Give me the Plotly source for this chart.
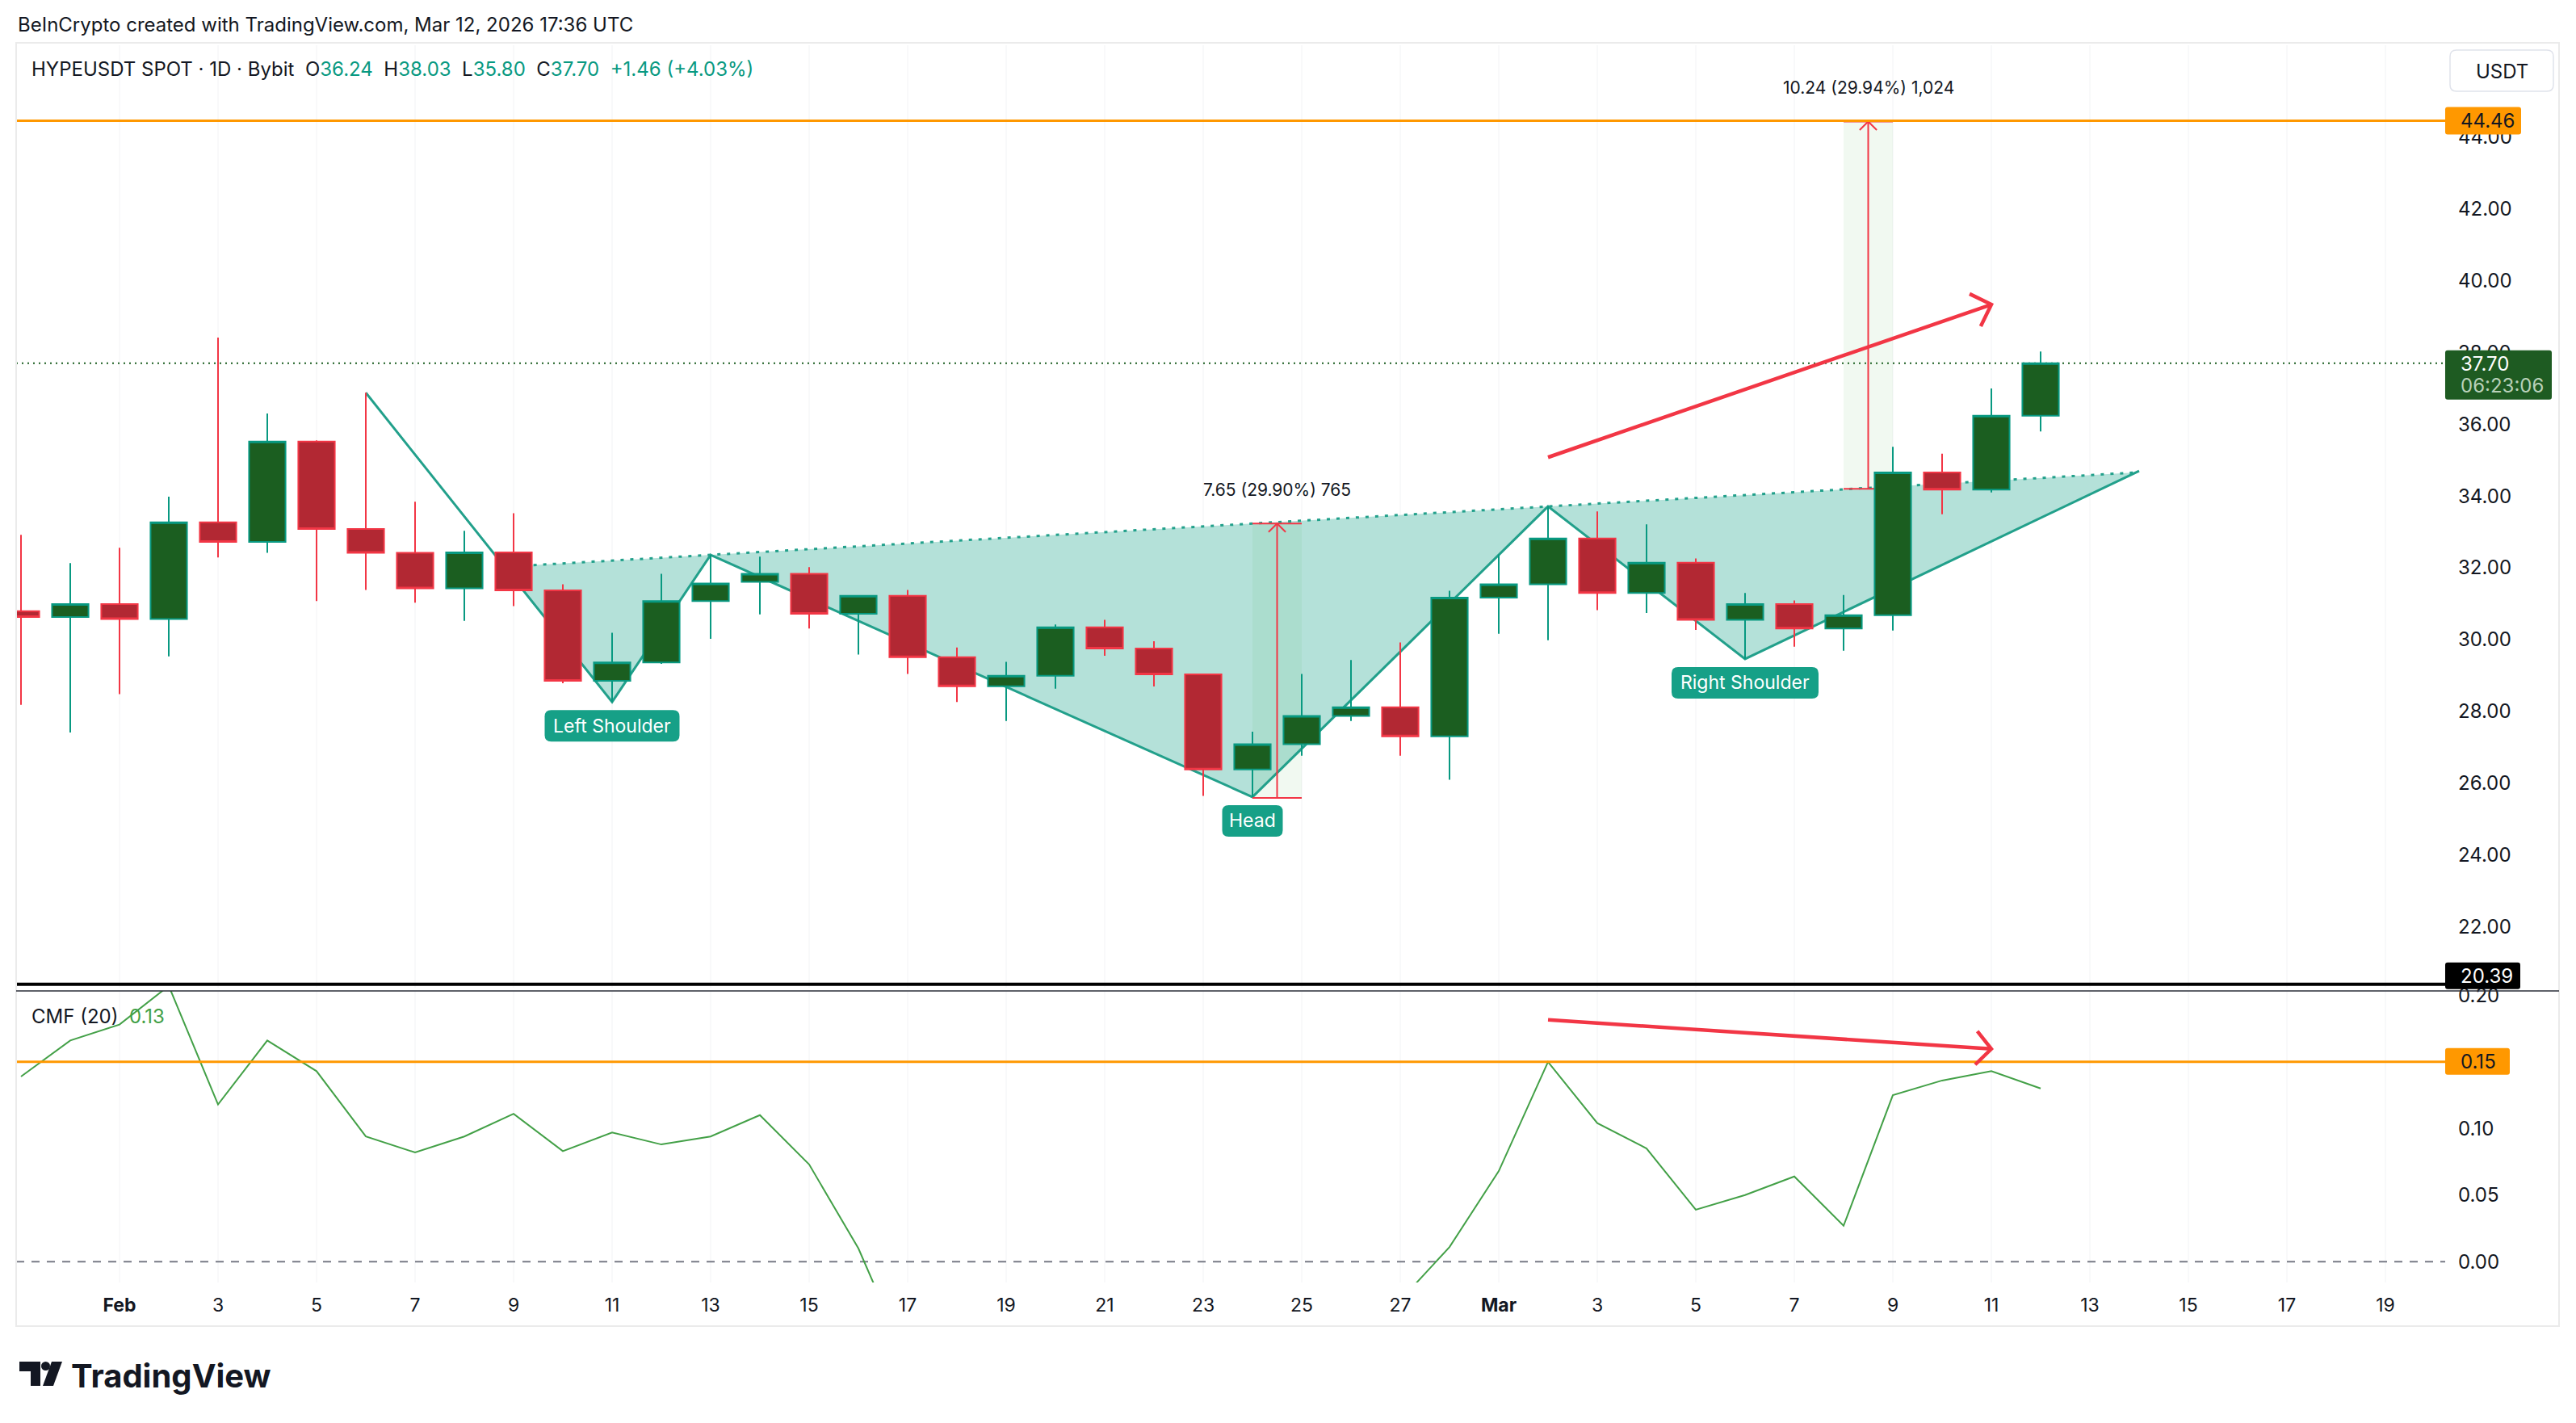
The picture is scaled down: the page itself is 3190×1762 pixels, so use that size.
import math
import pandas as pd
import plotly.graph_objects as go

# ---------------- data ----------------
dates = pd.date_range("2026-01-30", "2026-03-12", freq="D").strftime("%Y-%m-%d").tolist()
opens = [30.79, 30.63, 30.99, 30.57, 33.27, 32.72, 35.52, 33.08, 32.42, 31.43, 32.43, 31.37,
         28.85, 29.36, 31.07, 31.61, 31.83, 30.72, 31.22, 29.51, 28.70, 28.99, 30.34, 29.75,
         29.03, 26.38, 27.08, 27.87, 28.11, 27.30, 31.17, 31.54, 32.82, 31.30, 32.14, 30.55,
         30.99, 30.31, 30.68, 34.66, 34.18, 36.24]
highs = [32.92, 32.13, 32.56, 33.98, 38.42, 36.30, 35.55, 36.88, 33.84, 33.03, 33.52, 31.54,
         30.19, 31.83, 32.36, 32.31, 32.02, 31.24, 31.38, 29.78, 29.38, 30.42, 30.55, 29.95,
         29.04, 27.43, 29.04, 29.43, 29.92, 31.36, 32.37, 33.71, 33.57, 33.21, 32.26, 31.30,
         31.09, 31.24, 35.37, 35.18, 37.00, 38.03]
lows = [28.18, 27.41, 28.48, 29.53, 32.29, 32.42, 31.07, 31.38, 31.03, 30.52, 30.93, 28.78,
        28.26, 29.32, 30.02, 30.70, 30.31, 29.58, 29.04, 28.26, 27.73, 28.63, 29.55, 28.69,
        25.64, 25.61, 26.76, 27.73, 26.76, 26.09, 30.16, 29.98, 30.82, 30.74, 30.27, 29.46,
        29.80, 29.69, 30.25, 33.49, 34.10, 35.80]
closes = [30.63, 30.99, 30.57, 33.27, 32.72, 35.52, 33.08, 32.42, 31.43, 32.43, 31.37, 28.85,
          29.36, 31.07, 31.56, 31.83, 30.72, 31.22, 29.51, 28.70, 28.99, 30.34, 29.75, 29.03,
          26.38, 27.08, 27.87, 28.11, 27.30, 31.17, 31.54, 32.82, 31.30, 32.14, 30.55, 30.99,
          30.31, 30.68, 34.66, 34.18, 36.24, 37.70]
cmf = [0.139, 0.166, 0.178, 0.207, 0.118, 0.166, 0.143, 0.094, 0.082, 0.094, 0.111, 0.083,
       0.097, 0.088, 0.094, 0.110, 0.073, 0.010, -0.075, -0.090, -0.105, -0.095, -0.115, -0.125,
       -0.140, -0.120, -0.090, -0.060, -0.029, 0.011, 0.068, 0.150, 0.104, 0.085, 0.039, 0.050,
       0.064, 0.027, 0.125, 0.136, 0.143, 0.130]

tick_dates = pd.date_range("2026-02-01", "2026-03-19", freq="2D")
price_ticks = [22, 24, 26, 28, 30, 32, 34, 36, 38, 40, 42, 44]
cmf_ticks = [0.0, 0.05, 0.10, 0.15, 0.20]

# inverse head & shoulders drawing points
pattern_dates = ["2026-02-06", "2026-02-11", "2026-02-13", "2026-02-24", "2026-03-02", "2026-03-06", "2026-03-14"]
pattern_prices = [36.88, 28.26, 32.36, 25.61, 33.71, 29.46, 34.70]
pattern_labels = ["", "Left Shoulder", "", "Head", "", "Right Shoulder", ""]

resistance_level = 44.46
support_level = 20.39
cmf_level = 0.15

measure_start = ["2026-02-24", "2026-03-08"]
measure_end = ["2026-02-25", "2026-03-09"]
measure_low = [25.585, 34.20]
measure_high = [33.235, 44.44]
measure_vol = ["765", "1,024"]

price_arrow_dates = ["2026-03-02", "2026-03-11"]
price_arrow_vals = [35.08, 39.34]
cmf_arrow_dates = ["2026-03-02", "2026-03-11"]
cmf_arrow_vals = [0.1815, 0.1597]

# ---------------- layout geometry (screen pixels) ----------------
W, H = 3190, 1762
OFF = 8  # default page body margin
PL, PR = 20, 3028
PX_DAY, PX_FEB1 = 61.0, 148.0
X0 = (PL - PX_FEB1) / PX_DAY
X1 = (PR - PX_FEB1) / PX_DAY
PT, PB = 56, 1223
Y_TOP = 40 + (347.7 - PT) / 44.42
Y_BOT = 40 - (PB - 347.7) / 44.42
CT, CB = 1227, 1588
C_TOP = (1562.3 - CT) / 1650
C_BOT = (1562.3 - CB) / 1650
PANES = {"price": (PT, PB, Y_TOP, Y_BOT), "cmf": (CT, CB, C_TOP, C_BOT)}

FONT = "Inter, Roboto, 'Noto Sans', sans-serif"
TXT = "#131722"
GREEN_UP, GREEN_BODY = "#089981", "#1b5e20"
RED_DN, RED_BODY = "#f23645", "#b22833"
TEAL = "#22a08b"
ORANGE = "#ff9800"
GRID = "#f2f3f5"

BASE = pd.Timestamp("2026-02-01")


def tday(d):
    return (pd.Timestamp(d) - BASE) / pd.Timedelta(days=1)


def fx(px):
    return (px - OFF) / W


def fy(py):
    return 1 - (py - OFF) / H


def px_x(t):
    return PL + (t - X0) / (X1 - X0) * (PR - PL)


def t_of_px(p):
    return X0 + (p - PL) / (PR - PL) * (X1 - X0)


def px_y(v, pane):
    top, bot, vt, vb = PANES[pane]
    return top + (vt - v) / (vt - vb) * (bot - top)


def v_of_py(p, pane):
    top, bot, vt, vb = PANES[pane]
    return vt - (p - top) / (bot - top) * (vt - vb)


def pp(px, py):
    return f"{fx(px):.6f},{fy(py):.6f}"


def rrect(x0, y0, x1, y1, r):
    return (f"M {pp(x0 + r, y0)} L {pp(x1 - r, y0)} Q {pp(x1, y0)} {pp(x1, y0 + r)} "
            f"L {pp(x1, y1 - r)} Q {pp(x1, y1)} {pp(x1 - r, y1)} L {pp(x0 + r, y1)} "
            f"Q {pp(x0, y1)} {pp(x0, y1 - r)} L {pp(x0, y0 + r)} Q {pp(x0, y0)} {pp(x0 + r, y0)} Z")


def chevron(t0, v0, t1, v1, pane, length, ang):
    x0p, y0p = px_x(t0), px_y(v0, pane)
    x1p, y1p = px_x(t1), px_y(v1, pane)
    back = math.atan2(y0p - y1p, x0p - x1p)
    arms = []
    for s in (1, -1):
        a = back + s * math.radians(ang)
        arms.append((t_of_px(x1p + length * math.cos(a)), v_of_py(y1p + length * math.sin(a), pane)))
    return f"M {arms[0][0]:.4f},{arms[0][1]:.4f} L {t1:.4f},{v1:.4f} L {arms[1][0]:.4f},{arms[1][1]:.4f}"


x = [tday(d) for d in dates]
tick_x = [tday(d) for d in tick_dates]
tick_text = [("<b>" + d.strftime("%b") + "</b>") if d.day == 1 else str(d.day) for d in tick_dates]

fig = go.Figure()
fig.add_trace(go.Candlestick(
    x=x, open=opens, high=highs, low=lows, close=closes, xaxis="x", yaxis="y",
    increasing=dict(fillcolor=GREEN_BODY, line=dict(color=GREEN_UP, width=2)),
    decreasing=dict(fillcolor=RED_BODY, line=dict(color=RED_DN, width=2)),
    whiskerwidth=0, hoverinfo="skip", showlegend=False))
fig.add_trace(go.Scatter(
    x=x, y=cmf, mode="lines", line=dict(color="#43a047", width=2),
    xaxis="x2", yaxis="y2", hoverinfo="skip", showlegend=False))

shapes = []
annos = []

# faint vertical grid (drawn first so the pattern fill covers it)
for tx in tick_x:
    shapes.append(dict(type="line", xref="x", yref="y domain", x0=tx, x1=tx, y0=0, y1=1,
                       line=dict(color=GRID, width=1), layer="below"))
    shapes.append(dict(type="line", xref="x2", yref="y2 domain", x0=tx, x1=tx, y0=0, y1=1,
                       line=dict(color=GRID, width=1), layer="below"))

# ---- pattern ----
pt = [tday(d) for d in pattern_dates]
pv = pattern_prices
slope = (pv[4] - pv[2]) / (pt[4] - pt[2])


def neck(t):
    return pv[2] + slope * (t - pt[2])


def seg_cross(ta, va, tb, vb):
    m = (vb - va) / (tb - ta)
    t = (va - m * ta - pv[2] + slope * pt[2]) / (slope - m)
    return t, neck(t)


i1 = seg_cross(pt[0], pv[0], pt[1], pv[1])
i2 = seg_cross(pt[5], pv[5], pt[6], pv[6])
poly = [i1] + list(zip(pt[1:6], pv[1:6])) + [i2]
path = "M " + " L ".join(f"{a:.4f},{b:.4f}" for a, b in poly) + " Z"
shapes.append(dict(type="path", xref="x", yref="y", path=path, fillcolor="rgb(180,225,217)",
                   line=dict(width=0), layer="below"))

for s, e, lo, hi in zip(measure_start, measure_end, measure_low, measure_high):
    shapes.append(dict(type="rect", xref="x", yref="y", x0=tday(s), x1=tday(e), y0=lo, y1=hi,
                       fillcolor="rgba(76,175,80,0.08)", line=dict(width=0), layer="below"))

zig = "M " + " L ".join(f"{a:.4f},{b:.4f}" for a, b in zip(pt, pv))
shapes.append(dict(type="path", xref="x", yref="y", path=zig, line=dict(color=TEAL, width=3),
                   fillcolor="rgba(0,0,0,0)", layer="below"))
shapes.append(dict(type="line", xref="x", yref="y", x0=i1[0], y0=i1[1], x1=i2[0], y1=i2[1],
                   line=dict(color=TEAL, width=3, dash="4px,8px"), layer="below"))

# last price dotted
shapes.append(dict(type="line", xref="x domain", yref="y", x0=0, x1=1, y0=closes[-1], y1=closes[-1],
                   line=dict(color=GREEN_BODY, width=2, dash="2px,5px"), layer="below"))

# measurement lines
for s, e, lo, hi, vol in zip(measure_start, measure_end, measure_low, measure_high, measure_vol):
    ts, te = tday(s), tday(e)
    tm = (ts + te) / 2
    red = dict(color=RED_DN, width=2)
    shapes.append(dict(type="line", xref="x", yref="y", x0=tm, x1=tm, y0=lo, y1=hi, line=red, layer="below"))
    shapes.append(dict(type="line", xref="x", yref="y", x0=ts, x1=te, y0=lo, y1=lo, line=red, layer="below"))
    shapes.append(dict(type="line", xref="x", yref="y", x0=ts, x1=te, y0=hi, y1=hi, line=red, layer="below"))
    shapes.append(dict(type="path", xref="x", yref="y", path=chevron(tm, lo, tm, hi, "price", 15, 45),
                       line=red, fillcolor="rgba(0,0,0,0)", layer="below"))
    diff = hi - lo
    annos.append(dict(xref="x", yref="y", x=tm, y=hi, yshift=42, showarrow=False,
                      text=f"{diff:.2f} ({diff / lo * 100:.2f}%) {vol}",
                      font=dict(family=FONT, size=21, color=TXT)))

# horizontal levels
shapes.append(dict(type="line", xref="x domain", yref="y", x0=0, x1=1, y0=resistance_level, y1=resistance_level,
                   line=dict(color=ORANGE, width=3), layer="above"))
shapes.append(dict(type="line", xref="x domain", yref="y", x0=0, x1=1, y0=support_level, y1=support_level,
                   line=dict(color="#000000", width=4), layer="above"))
shapes.append(dict(type="line", xref="x2 domain", yref="y2", x0=0, x1=1, y0=0, y1=0,
                   line=dict(color="#787b86", width=2, dash="10px,9px"), layer="below"))
shapes.append(dict(type="line", xref="x2 domain", yref="y2", x0=0, x1=1, y0=cmf_level, y1=cmf_level,
                   line=dict(color=ORANGE, width=3), layer="above"))

# red trend arrows
for dts, vals, pane, yr, ln, ang in [(price_arrow_dates, price_arrow_vals, "price", "y", 30, 45),
                                     (cmf_arrow_dates, cmf_arrow_vals, "cmf", "y2", 28, 48)]:
    ta, tb = tday(dts[0]), tday(dts[1])
    xr = "x" if yr == "y" else "x2"
    shapes.append(dict(type="line", xref=xr, yref=yr, x0=ta, y0=vals[0], x1=tb, y1=vals[1],
                       line=dict(color=RED_DN, width=4.5), layer="above"))
    shapes.append(dict(type="path", xref=xr, yref=yr, path=chevron(ta, vals[0], tb, vals[1], pane, ln, ang),
                       line=dict(color=RED_DN, width=4.5), fillcolor="rgba(0,0,0,0)", layer="above"))

# pattern labels
label_w = {"Left Shoulder": 167, "Head": 75, "Right Shoulder": 182}
for t, v, lab in zip(pt, pv, pattern_labels):
    if not lab:
        continue
    cx, top = px_x(t), px_y(v, "price") + 10
    w = label_w[lab]
    shapes.append(dict(type="path", xref="paper", yref="paper", path=rrect(cx - w / 2, top, cx + w / 2, top + 39, 8),
                       fillcolor="#16a087", line=dict(width=0), layer="above"))
    annos.append(dict(xref="paper", yref="paper", x=fx(cx), y=fy(top + 19.5), showarrow=False,
                      text=lab, font=dict(family=FONT, size=23, color="white"), xanchor="center", yanchor="middle"))

# frame & separator
shapes.append(dict(type="rect", xref="paper", yref="paper", x0=fx(PL), x1=fx(3169), y0=fy(1642), y1=fy(53),
                   line=dict(color="#ebebeb", width=2), fillcolor="rgba(0,0,0,0)", layer="above"))
shapes.append(dict(type="line", xref="paper", yref="paper", x0=fx(PL), x1=fx(3169), y0=fy(1227), y1=fy(1227),
                   line=dict(color="#2a2e39", width=1.5), layer="above"))


def axis_box(y0, y1, x1, fill, lines):
    shapes.append(dict(type="path", xref="paper", yref="paper", path=rrect(3028, y0, x1, y1, 3),
                       fillcolor=fill, line=dict(width=0), layer="above"))
    for txt, cy, col in lines:
        annos.append(dict(xref="paper", yref="paper", x=fx(3045), y=fy(cy), xanchor="left", yanchor="middle",
                          showarrow=False, text=txt, font=dict(family=FONT, size=24, color=col)))


ry = px_y(resistance_level, "price")
axis_box(ry - 17, ry + 17, 3122, ORANGE, [(f"{resistance_level:.2f}", ry, TXT)])
ly = px_y(closes[-1], "price")
axis_box(ly - 16, ly + 45, 3160, "#1e5b22", [(f"{closes[-1]:.2f}", ly + 1, "white"), ("06:23:06", ly + 28, "#b9d1ba")])
sy = px_y(support_level, "price")
axis_box(sy - 27, sy + 6, 3121, "#000000", [(f"{support_level:.2f}", sy - 10.5, "white")])
cy_ = px_y(cmf_level, "cmf")
axis_box(cy_ - 17, cy_ + 16, 3108, ORANGE, [(f"{cmf_level:.2f}", cy_, TXT)])

# USDT box
shapes.append(dict(type="path", xref="paper", yref="paper", path=rrect(3034, 62, 3162, 113, 8),
                   fillcolor="white", line=dict(color="#e0e3eb", width=1.5), layer="above"))
annos.append(dict(xref="paper", yref="paper", x=fx(3098), y=fy(88), xanchor="center", yanchor="middle",
                  showarrow=False, text="USDT", font=dict(family=FONT, size=24, color=TXT)))

# header texts
annos.append(dict(xref="paper", yref="paper", x=fx(20), y=fy(31), xanchor="left", yanchor="middle", showarrow=False,
                  text="BeInCrypto created with TradingView.com, Mar 12, 2026 17:36 UTC",
                  font=dict(family=FONT, size=24, color=TXT)))
chg = closes[-1] - closes[-2]
sp = "&nbsp;&nbsp;"
c = "<span style='color:#089981'>{}</span>"
header = ("HYPEUSDT SPOT · 1D · Bybit" + sp + "O" + c.format(f"{opens[-1]:.2f}") + sp + "H" + c.format(f"{highs[-1]:.2f}")
          + sp + "L" + c.format(f"{lows[-1]:.2f}") + sp + "C" + c.format(f"{closes[-1]:.2f}") + sp
          + c.format(f"+{chg:.2f} (+{chg / closes[-2] * 100:.2f}%)"))
annos.append(dict(xref="paper", yref="paper", x=fx(37), y=fy(86), xanchor="left", yanchor="middle", showarrow=False,
                  text=header, font=dict(family=FONT, size=24, color=TXT)))
annos.append(dict(xref="paper", yref="paper", x=fx(37), y=fy(1258), xanchor="left", yanchor="middle", showarrow=False,
                  text="CMF (20)" + sp + f"<span style='color:#43a047'>{cmf[-1]:.2f}</span>",
                  font=dict(family=FONT, size=24, color=TXT)))

# TradingView logo
shapes.append(dict(type="path", xref="paper", yref="paper",
                   path=f"M {pp(24,1686)} L {pp(50,1686)} L {pp(50,1716)} L {pp(38,1716)} L {pp(38,1698)} L {pp(24,1698)} Z",
                   fillcolor="#131722", line=dict(width=0), layer="above"))
shapes.append(dict(type="circle", xref="paper", yref="paper", x0=fx(51), x1=fx(62), y0=fy(1697), y1=fy(1686),
                   fillcolor="#131722", line=dict(width=0), layer="above"))
shapes.append(dict(type="path", xref="paper", yref="paper",
                   path=f"M {pp(64,1686)} L {pp(77,1686)} L {pp(66,1716)} L {pp(53,1716)} Z",
                   fillcolor="#131722", line=dict(width=0), layer="above"))
annos.append(dict(xref="paper", yref="paper", x=fx(86), y=fy(1703), xanchor="left", yanchor="middle", showarrow=False,
                  text="<b>TradingView</b>", font=dict(family=FONT, size=40, color="#131722")))

axis_font = dict(family=FONT, size=24, color=TXT)
fig.update_layout(
    width=W, height=H, margin=dict(l=0, r=0, t=0, b=0, pad=0, autoexpand=False),
    paper_bgcolor="white", plot_bgcolor="white", showlegend=False, hovermode=False,
    boxgap=0, boxgroupgap=0.26,
    shapes=shapes, annotations=annos,
    xaxis=dict(domain=[fx(PL), fx(PR)], range=[X0, X1], tickvals=tick_x, showticklabels=False, ticks="",
               showgrid=False, zeroline=False, showline=False, anchor="y",
               rangeslider=dict(visible=False), fixedrange=True, automargin=False),
    yaxis=dict(domain=[fy(PB), fy(PT)], range=[Y_BOT, Y_TOP], side="right", anchor="x",
               tickvals=price_ticks, ticktext=[f"{v:.2f}" for v in price_ticks], ticks="",
               ticklabelstandoff=15, tickfont=axis_font, showgrid=False, zeroline=False, showline=False,
               automargin=False),
    xaxis2=dict(domain=[fx(PL), fx(PR)], range=[X0, X1], tickvals=tick_x, ticktext=tick_text, ticks="",
                ticklabelstandoff=12, tickfont=dict(family=FONT, size=23, color=TXT),
                showgrid=False, zeroline=False, showline=False, anchor="y2",
                automargin=False),
    yaxis2=dict(domain=[fy(CB), fy(CT)], range=[C_BOT, C_TOP], side="right", anchor="x2",
                tickvals=cmf_ticks, ticktext=[f"{v:.2f}" for v in cmf_ticks], ticks="",
                ticklabelstandoff=15, tickfont=axis_font, showgrid=False, zeroline=False, showline=False,
                automargin=False),
)

fig.write_html("out.html", config={"displayModeBar": False})
